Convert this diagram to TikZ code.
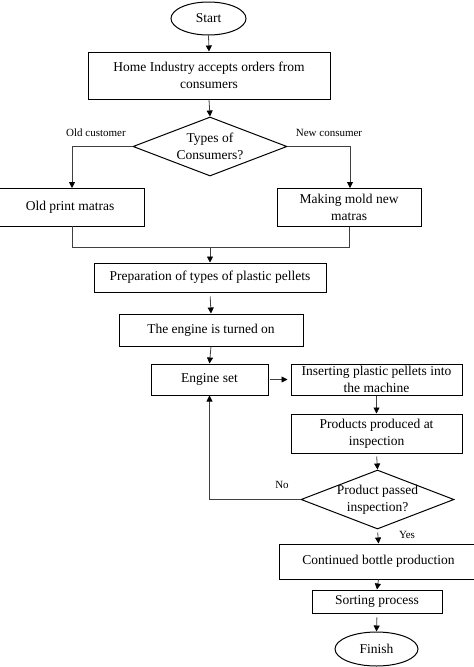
\documentclass[tikz,border=0pt]{standalone}
\usepackage{fontspec}
\setmainfont{Liberation Serif}
\usetikzlibrary{shapes.geometric,arrows.meta}
\begin{document}
\begin{tikzpicture}[x=1pt,y=-1pt,
  every node/.style={font=\fontsize{13.5}{17}\selectfont, align=center, inner sep=0pt},
  box/.style={draw=black, line width=1pt, rectangle},
  term/.style={draw=black, line width=1pt, ellipse},
  decision/.style={draw=black, line width=1pt, diamond},
  lbl/.style={font=\fontsize{11}{13}\selectfont},
  conn/.style={draw=black!75, line width=0.8pt, -{Triangle[width=6pt,length=6pt,color=black]}},
  plain/.style={draw=black!75, line width=0.8pt}]
\useasboundingbox (0,0) rectangle (474,667);
\begin{scope}
\clip (0,0) rectangle (474,667);
\node[term, minimum width=75pt, minimum height=33pt] (start) at (208.5,18.5) {Start};
\node[box, minimum width=242pt, minimum height=47pt] (home) at (209,75.5) {Home Industry accepts orders from\\consumers};
\node[decision, minimum width=154pt, minimum height=59pt, label={[align=center]center:Types of\\Consumers?}] (type) at (210,146.5) {};
\node[box, minimum width=148pt, minimum height=38pt] (old) at (70,207) {Old print matras};
\node[box, minimum width=144pt, minimum height=38pt] (new) at (349,207) {Making mold new\\matras};
\node[box, minimum width=232pt, minimum height=29pt] (prep) at (210,277.5) {Preparation of types of plastic pellets};
\node[box, minimum width=184pt, minimum height=32pt] (on) at (211,330) {The engine is turned on};
\node[box, minimum width=117pt, minimum height=31pt] (set) at (209.5,379.5) {Engine set};
\node[box, minimum width=171pt, minimum height=31pt] (insert) at (376.5,379.5) {Inserting plastic pellets into\\the machine};
\node[box, minimum width=171pt, minimum height=39pt] (prod) at (376.5,433.5) {Products produced at\\inspection};
\node[decision, minimum width=153pt, minimum height=59pt, label={[align=center]center:Product passed\\inspection?}] (pass) at (377.5,499.5) {};
\node[box, minimum width=199pt, minimum height=35pt] (cont) at (378.5,561.5) {Continued bottle production};
\node[box, minimum width=130pt, minimum height=23pt] (sort) at (377,601.5) {Sorting process};
\node[term, minimum width=83pt, minimum height=34pt] (finish) at (376.5,649) {Finish};
\end{scope}
\coordinate (merge) at (210,247);
\coordinate (oldtop) at (72,188);
\coordinate (newtop) at (350,188);
\coordinate (oldbot) at (72,226);
\draw[conn] (start.south) -- (home.north);
\draw[conn] (home.south) -- (type.north);
\draw[conn] (type.west) -| (oldtop);
\draw[conn] (type.east) -| (newtop);
\node[lbl] (lold) at (96,133) {Old customer};
\node[lbl] (lnew) at (329,133) {New consumer};
\draw[plain] (oldbot) |- (merge);
\draw[plain] (new.south) |- (merge);
\draw[conn] (merge) -- (prep.north);
\draw[conn, shorten <=4pt] (prep.south) -- (on.north);
\draw[conn] (on.south) -- (set.north);
\draw[conn, shorten <=1pt, shorten >=3pt] (set.east) -- (insert.west);
\draw[conn] (insert.south) -- (prod.north);
\draw[conn, shorten <=3pt] (prod.south) -- (pass.north);
\draw[conn] (pass.west) -| (set.south);
\node[lbl] (lno) at (282,485) {No};
\draw[conn, shorten <=3pt] (pass.south) -- (cont.north);
\node[lbl] (lyes) at (407,535) {Yes};
\draw[conn] (cont.south) -- (sort.north);
\draw[conn, shorten <=4pt] (sort.south) -- (finish.north);
\end{tikzpicture}
\end{document}
